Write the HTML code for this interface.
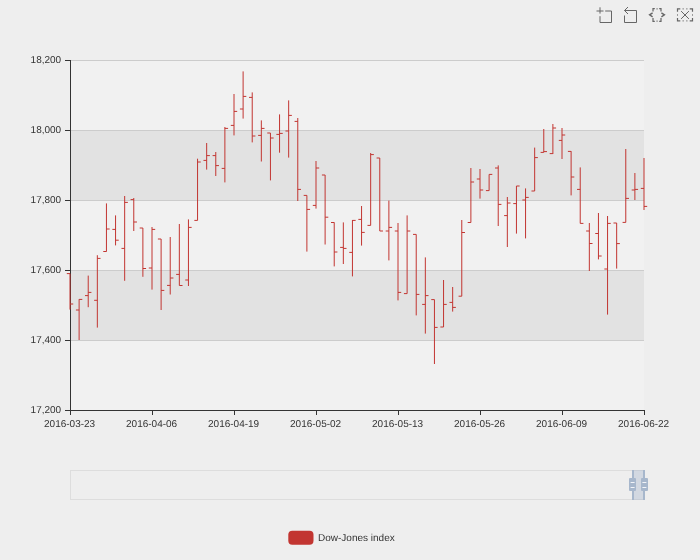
<!DOCTYPE html>
<html><head><meta charset="utf-8"><style>
html,body{margin:0;padding:0;background:#eeeeee;width:700px;height:560px;overflow:hidden}
svg{display:block;font-family:"Liberation Sans",sans-serif;will-change:transform;text-rendering:geometricPrecision}
</style></head><body>
<svg width="700" height="560" viewBox="0 0 700 560">
<rect x="0" y="0" width="700" height="560" fill="#eeeeee"/>
<rect x="70" y="60" width="574" height="70" fill="rgba(250,250,250,0.3)"/>
<rect x="70" y="130" width="574" height="70" fill="rgba(200,200,200,0.3)"/>
<rect x="70" y="200" width="574" height="70" fill="rgba(250,250,250,0.3)"/>
<rect x="70" y="270" width="574" height="70" fill="rgba(200,200,200,0.3)"/>
<rect x="70" y="340" width="574" height="70" fill="rgba(250,250,250,0.3)"/>
<line x1="70" y1="60.5" x2="644" y2="60.5" stroke="#ccc" stroke-width="1"/>
<line x1="70" y1="130.5" x2="644" y2="130.5" stroke="#ccc" stroke-width="1"/>
<line x1="70" y1="200.5" x2="644" y2="200.5" stroke="#ccc" stroke-width="1"/>
<line x1="70" y1="270.5" x2="644" y2="270.5" stroke="#ccc" stroke-width="1"/>
<line x1="70" y1="340.5" x2="644" y2="340.5" stroke="#ccc" stroke-width="1"/>
<line x1="70.5" y1="60" x2="70.5" y2="410" stroke="#333" stroke-width="1"/>
<line x1="70" y1="410.5" x2="644" y2="410.5" stroke="#333" stroke-width="1"/>
<line x1="65" y1="60.5" x2="70" y2="60.5" stroke="#333" stroke-width="1"/>
<text x="61.2" y="62.6" font-size="10" fill="#333" text-anchor="end">18,200</text>
<line x1="65" y1="130.5" x2="70" y2="130.5" stroke="#333" stroke-width="1"/>
<text x="61.2" y="132.6" font-size="10" fill="#333" text-anchor="end">18,000</text>
<line x1="65" y1="200.5" x2="70" y2="200.5" stroke="#333" stroke-width="1"/>
<text x="61.2" y="202.6" font-size="10" fill="#333" text-anchor="end">17,800</text>
<line x1="65" y1="270.5" x2="70" y2="270.5" stroke="#333" stroke-width="1"/>
<text x="61.2" y="272.6" font-size="10" fill="#333" text-anchor="end">17,600</text>
<line x1="65" y1="340.5" x2="70" y2="340.5" stroke="#333" stroke-width="1"/>
<text x="61.2" y="342.6" font-size="10" fill="#333" text-anchor="end">17,400</text>
<line x1="65" y1="410.5" x2="70" y2="410.5" stroke="#333" stroke-width="1"/>
<text x="61.2" y="412.6" font-size="10" fill="#333" text-anchor="end">17,200</text>
<line x1="70.5" y1="410" x2="70.5" y2="415" stroke="#333" stroke-width="1"/>
<text x="69.60" y="427" font-size="10" fill="#333" text-anchor="middle">2016-03-23</text>
<line x1="152.5" y1="410" x2="152.5" y2="415" stroke="#333" stroke-width="1"/>
<text x="151.60" y="427" font-size="10" fill="#333" text-anchor="middle">2016-04-06</text>
<line x1="234.5" y1="410" x2="234.5" y2="415" stroke="#333" stroke-width="1"/>
<text x="233.60" y="427" font-size="10" fill="#333" text-anchor="middle">2016-04-19</text>
<line x1="316.5" y1="410" x2="316.5" y2="415" stroke="#333" stroke-width="1"/>
<text x="315.60" y="427" font-size="10" fill="#333" text-anchor="middle">2016-05-02</text>
<line x1="398.5" y1="410" x2="398.5" y2="415" stroke="#333" stroke-width="1"/>
<text x="397.60" y="427" font-size="10" fill="#333" text-anchor="middle">2016-05-13</text>
<line x1="480.5" y1="410" x2="480.5" y2="415" stroke="#333" stroke-width="1"/>
<text x="479.60" y="427" font-size="10" fill="#333" text-anchor="middle">2016-05-26</text>
<line x1="562.5" y1="410" x2="562.5" y2="415" stroke="#333" stroke-width="1"/>
<text x="561.60" y="427" font-size="10" fill="#333" text-anchor="middle">2016-06-09</text>
<line x1="644.5" y1="410" x2="644.5" y2="415" stroke="#333" stroke-width="1"/>
<text x="643.60" y="427" font-size="10" fill="#333" text-anchor="middle">2016-06-22</text>
<g stroke="#c23531" stroke-width="1" fill="none">
<path d="M70.00 309.6V273.6M70.00 273.6H66.81M70.00 304.0H73.19"/>
<path d="M79.11 340.0V299.2M79.11 310.0H75.92M79.11 299.4H82.30"/>
<path d="M88.22 307.2V275.6M88.22 295.6H85.03M88.22 292.4H91.41"/>
<path d="M97.33 327.6V255.2M97.33 300.3H94.14M97.33 258.4H100.52"/>
<path d="M106.44 251.6V203.4M106.44 251.5H103.26M106.44 229.0H109.63"/>
<path d="M115.56 245.4V215.4M115.56 229.4H112.37M115.56 240.2H118.74"/>
<path d="M124.67 280.8V196.0M124.67 248.4H121.48M124.67 202.4H127.86"/>
<path d="M133.78 231.0V198.0M133.78 199.6H130.59M133.78 222.0H136.97"/>
<path d="M142.89 276.8V228.0M142.89 228.0H139.70M142.89 268.5H146.08"/>
<path d="M152.00 289.6V227.0M152.00 268.0H148.81M152.00 229.4H155.19"/>
<path d="M161.11 310.0V239.0M161.11 239.0H157.92M161.11 290.4H164.30"/>
<path d="M170.22 294.5V237.0M170.22 285.4H167.03M170.22 278.0H173.41"/>
<path d="M179.33 285.5V224.0M179.33 274.4H176.14M179.33 285.5H182.52"/>
<path d="M188.44 286.0V219.4M188.44 280.0H185.26M188.44 227.4H191.63"/>
<path d="M197.56 220.4V158.7M197.56 220.4H194.37M197.56 162.0H200.74"/>
<path d="M206.67 169.6V143.0M206.67 160.4H203.48M206.67 155.6H209.86"/>
<path d="M215.78 176.0V152.0M215.78 155.6H212.59M215.78 165.6H218.97"/>
<path d="M224.89 182.4V127.0M224.89 168.4H221.70M224.89 128.4H228.08"/>
<path d="M234.00 135.4V94.0M234.00 125.4H230.81M234.00 111.4H237.19"/>
<path d="M243.11 118.6V71.4M243.11 109.0H239.92M243.11 96.4H246.30"/>
<path d="M252.22 142.4V92.4M252.22 97.4H249.03M252.22 136.0H255.41"/>
<path d="M261.33 161.5V120.4M261.33 135.4H258.14M261.33 128.4H264.52"/>
<path d="M270.44 180.4V133.0M270.44 133.0H267.26M270.44 138.0H273.63"/>
<path d="M279.56 152.7V114.4M279.56 134.4H276.37M279.56 133.4H282.74"/>
<path d="M288.67 157.6V100.4M288.67 131.0H285.48M288.67 115.4H291.86"/>
<path d="M297.78 201.0V118.0M297.78 121.4H294.59M297.78 189.4H300.97"/>
<path d="M306.89 251.6V195.4M306.89 195.4H303.70M306.89 209.4H310.08"/>
<path d="M316.00 208.6V161.0M316.00 205.4H312.81M316.00 168.0H319.19"/>
<path d="M325.11 244.5V175.0M325.11 175.0H321.92M325.11 217.2H328.30"/>
<path d="M334.22 266.4V222.4M334.22 222.5H331.03M334.22 252.0H337.41"/>
<path d="M343.33 264.0V222.4M343.33 247.4H340.14M343.33 248.4H346.52"/>
<path d="M352.44 276.4V220.0M352.44 252.4H349.26M352.44 220.4H355.63"/>
<path d="M361.56 245.6V206.0M361.56 219.4H358.37M361.56 232.4H364.74"/>
<path d="M370.67 225.4V153.0M370.67 225.4H367.48M370.67 154.6H373.86"/>
<path d="M379.78 231.0V158.0M379.78 158.0H376.59M379.78 231.0H382.97"/>
<path d="M388.89 260.4V200.6M388.89 231.0H385.70M388.89 227.4H392.08"/>
<path d="M398.00 300.4V223.0M398.00 231.0H394.81M398.00 292.4H401.19"/>
<path d="M407.11 293.6V215.4M407.11 293.6H403.92M407.11 231.0H410.30"/>
<path d="M416.22 315.4V234.4M416.22 234.4H413.03M416.22 294.4H419.41"/>
<path d="M425.33 333.6V257.4M425.33 304.4H422.14M425.33 295.6H428.52"/>
<path d="M434.44 364.0V299.6M434.44 299.6H431.26M434.44 327.4H437.63"/>
<path d="M443.56 327.0V280.0M443.56 327.0H440.37M443.56 304.4H446.74"/>
<path d="M452.67 311.6V287.0M452.67 302.4H449.48M452.67 307.4H455.86"/>
<path d="M461.78 296.2V220.0M461.78 296.2H458.59M461.78 232.5H464.97"/>
<path d="M470.89 222.5V168.0M470.89 222.5H467.70M470.89 182.0H474.08"/>
<path d="M480.00 198.6V169.0M480.00 179.0H476.81M480.00 190.0H483.19"/>
<path d="M489.11 190.6V174.4M489.11 190.6H485.92M489.11 174.4H492.30"/>
<path d="M498.22 226.0V165.4M498.22 168.0H495.03M498.22 204.4H501.41"/>
<path d="M507.33 247.0V197.0M507.33 215.6H504.14M507.33 203.0H510.52"/>
<path d="M516.44 233.6V186.0M516.44 203.6H513.26M516.44 186.0H519.63"/>
<path d="M525.56 238.4V188.4M525.56 200.0H522.37M525.56 197.4H528.74"/>
<path d="M534.67 191.0V147.6M534.67 191.0H531.48M534.67 157.6H537.86"/>
<path d="M543.78 152.4V129.0M543.78 152.4H540.59M543.78 151.6H546.97"/>
<path d="M552.89 154.0V124.0M552.89 153.6H549.70M552.89 128.0H556.08"/>
<path d="M562.00 159.0V128.0M562.00 140.4H558.81M562.00 135.0H565.19"/>
<path d="M571.11 195.4V151.2M571.11 151.4H567.92M571.11 177.0H574.30"/>
<path d="M580.22 223.4V167.4M580.22 189.4H577.03M580.22 223.4H583.41"/>
<path d="M589.33 271.0V223.0M589.33 231.0H586.14M589.33 243.5H592.52"/>
<path d="M598.44 259.4V213.0M598.44 233.5H595.26M598.44 256.0H601.63"/>
<path d="M607.56 314.6V216.0M607.56 269.0H604.37M607.56 223.4H610.74"/>
<path d="M616.67 268.6V223.0M616.67 223.0H613.48M616.67 243.6H619.86"/>
<path d="M625.78 222.4V149.0M625.78 222.4H622.59M625.78 198.4H628.97"/>
<path d="M634.89 200.0V173.0M634.89 190.0H631.70M634.89 189.4H638.08"/>
<path d="M644.00 210.0V158.0M644.00 188.4H640.81M644.00 206.4H647.19"/>
</g>
<rect x="70.5" y="470.5" width="574" height="29" fill="none" stroke="#ddd" stroke-width="1"/>
<rect x="633" y="470" width="11" height="30" fill="rgba(167,183,204,0.4)"/>
<rect x="632" y="470" width="2" height="30" fill="#a7b7cc"/>
<rect x="643" y="470" width="2" height="30" fill="#a7b7cc"/>
<rect x="629" y="478" width="7" height="13" rx="1" fill="#a7b7cc"/>
<rect x="641" y="478" width="7" height="13" rx="1" fill="#a7b7cc"/>
<g stroke="#fff" stroke-opacity="0.85" stroke-width="1"><line x1="630.6" y1="482.5" x2="634.6" y2="482.5"/><line x1="630.6" y1="487.5" x2="634.6" y2="487.5"/><line x1="642.4" y1="482.5" x2="646.4" y2="482.5"/><line x1="642.4" y1="487.5" x2="646.4" y2="487.5"/></g>
<rect x="288.3" y="530.8" width="25.2" height="14" rx="4" fill="#c23531"/>
<text x="318" y="541" font-size="10" fill="#333">Dow-Jones index</text>
<g stroke="#666" stroke-width="1" fill="none">
<path d="M596.5 11H603.5M600 7.3V13.6M605.2 11H611.5V22.5H600V16.2"/>
<path d="M624.5 15.5V22.5H636.5V10.5H624.5M628 7L624.5 10.5L628 14"/>
<path stroke-width="1.2" d="M653 11.5V8.7H654.8M659.2 8.7H661V11.5M653 18.1V21.3H654.8M659.2 21.3H661V18.1"/>
<path stroke-width="1" stroke="#888" d="M656.2 8.9H658M656.2 21.1H658"/>
<path stroke-width="1.4" d="M652.6 12.8L649.6 14.8L652.6 16.8M661.4 12.8L664.4 14.8L661.4 16.8"/>
<path stroke-width="1.2" d="M677.5 11.7V8.9H680.3M689.7 8.9H692.5V11.7M677.5 18.1V20.9H680.3M689.7 20.9H692.5V18.1"/>
<path stroke="#888" d="M682.4 8.9H684M686 8.9H687.6M682.4 20.9H684M686 20.9H687.6M677.5 14.2V15.8M692.5 14.2V15.8"/>
<path d="M681.1 11.1L688.9 18.9M688.9 11.1L681.1 18.9"/>
</g>
</svg>
</body></html>
